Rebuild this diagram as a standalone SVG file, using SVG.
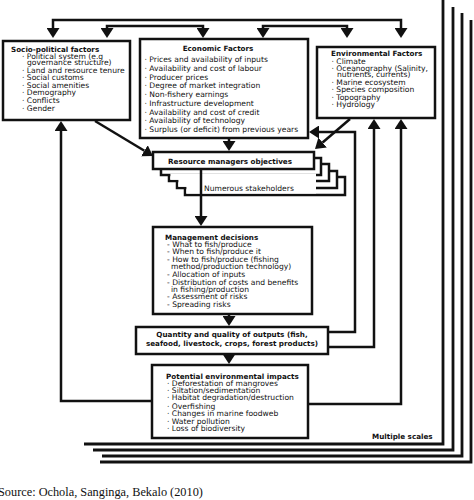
<svg xmlns="http://www.w3.org/2000/svg" width="474" height="500" viewBox="0 0 474 500">
<style>
.box{fill:#fff;stroke:#111;stroke-width:2.5}
.ln{fill:none;stroke:#111;stroke-width:2.5;stroke-linejoin:miter}
.fr{fill:none;stroke:#111;stroke-width:2.8}
text{font-family:"DejaVu Sans","Liberation Sans",sans-serif;font-size:7.6px;fill:#111}
.b{font-weight:bold;font-size:7.2px}
.m{text-anchor:middle}
.src{font-family:"Liberation Serif","Times New Roman",serif;font-size:12.3px}
</style>
<defs>
<marker id="ah" viewBox="0 0 10 13" refX="0" refY="6.5" markerWidth="10" markerHeight="13" markerUnits="userSpaceOnUse" orient="auto-start-reverse">
<path d="M0,0 L10,6.5 L0,13 z" fill="#111"/>
</marker>
</defs>
<rect width="474" height="500" fill="#fff"/>

<g id="scales-frame">
<path class="fr" d="M443,-2 V444 H84"/>
<path class="fr" d="M453,7 V450 H93"/>
<path class="fr" d="M462,13 V456 H102"/>
<path class="fr" d="M471,20 V462 H100"/>
<text class="b" x="372" y="438.5">Multiple scales</text>
</g>

<g id="socio">
<rect class="box" x="3" y="41" width="127" height="79"/>
<text class="b" x="11" y="52">Socio-political factors</text>
<text x="22" y="58.5">· Political system (e.g</text>
<text x="27" y="64.5">governance structure)</text>
<text x="22" y="72.5">· Land and resource tenure</text>
<text x="22" y="79.5">· Social customs</text>
<text x="22" y="87.5">· Social amenities</text>
<text x="22" y="94.5">· Demography</text>
<text x="22" y="102.5">· Conflicts</text>
<text x="22" y="110.5">· Gender</text>
</g>

<g id="economic">
<rect class="box" x="140" y="39" width="168" height="99"/>
<text class="b m" x="218" y="51">Economic Factors</text>
<text x="144.5" y="62">· Prices and availability of inputs</text>
<text x="144.5" y="70.75">· Availability and cost of labour</text>
<text x="144.5" y="79.5">· Producer prices</text>
<text x="144.5" y="88.25">· Degree of market integration</text>
<text x="144.5" y="97">· Non-fishery earnings</text>
<text x="144.5" y="105.75">· Infrastructure development</text>
<text x="144.5" y="114.5">· Availability and cost of credit</text>
<text x="144.5" y="123.25">· Availability of technology</text>
<text x="144.5" y="132">· Surplus (or deficit) from previous years</text>
</g>

<g id="environmental">
<rect class="box" x="317" y="47" width="118" height="71"/>
<text class="b" x="331" y="56">Environmental Factors</text>
<text x="331.5" y="63.5">· Climate</text>
<text x="331.5" y="70.5">· Oceanography (Salinity,</text>
<text x="337" y="76.5">nutrients, currents)</text>
<text x="331.5" y="84.5">· Marine ecosystem</text>
<text x="331.5" y="91.5">· Species composition</text>
<text x="331.5" y="99.5">· Topography</text>
<text x="331.5" y="106.5">· Hydrology</text>
</g>

<g id="resource-managers">
<rect class="box" x="185" y="177" width="160" height="18"/>
<rect class="box" x="177" y="171" width="160" height="17"/>
<rect class="box" x="169" y="164" width="160" height="17"/>
<rect class="box" x="161" y="158" width="160" height="17"/>
<rect class="box" x="153" y="152" width="161" height="17"/>
<polygon fill="#fff" points="170.4,173.4 316,173.4 316,193.6 186.4,193.6 186.4,186.7 178.4,186.7 178.4,179.7 170.4,179.7"/>
<text class="b m" x="230" y="163.5">Resource managers objectives</text>
<text x="204" y="190.5">Numerous stakeholders</text>
</g>

<g id="management">
<rect class="box" x="153" y="227" width="159" height="87"/>
<text class="b" x="165" y="239.5">Management decisions</text>
<text x="167" y="247">- What to fish/produce</text>
<text x="167" y="254">- When to fish/produce it</text>
<text x="167" y="261.5">- How to fish/produce (fishing</text>
<text x="171" y="268.5">method/production technology)</text>
<text x="167" y="277">- Allocation of inputs</text>
<text x="167" y="284.5">- Distribution of costs and benefits</text>
<text x="171" y="291.5">in fishing/production</text>
<text x="167" y="299">- Assessment of risks</text>
<text x="167" y="307">- Spreading risks</text>
</g>

<g id="outputs">
<rect class="box" x="136" y="327" width="192" height="27"/>
<text class="b m" x="232" y="336.5">Quantity and quality of outputs (fish,</text>
<text class="b m" x="232" y="345.5">seafood, livestock, crops, forest products)</text>
</g>

<g id="impacts">
<rect class="box" x="152" y="365" width="156" height="73"/>
<text class="b" x="166" y="378.5">Potential environmental impacts</text>
<text x="167" y="385.5">· Deforestation of mangroves</text>
<text x="167" y="392.5">· Siltation/sedimentation</text>
<text x="167" y="400">· Habitat degradation/destruction</text>
<text x="167" y="408.5">· Overfishing</text>
<text x="167" y="416">· Changes in marine foodweb</text>
<text x="167" y="423.5">· Water pollution</text>
<text x="167" y="431">· Loss of biodiversity</text>
</g>

<g id="connectors">
<path class="ln" d="M53,28 V20 H401 V28" marker-start="url(#ah)" marker-end="url(#ah)"/>
<path class="ln" d="M107,28 V26 H203 V28" marker-start="url(#ah)" marker-end="url(#ah)"/>
<path class="ln" d="M263,28 V26 H347 V28" marker-start="url(#ah)" marker-end="url(#ah)"/>
<path class="ln" d="M95,121 L144.4,150.8" marker-end="url(#ah)"/>
<path class="ln" d="M229,139 V141" marker-end="url(#ah)"/>
<path class="ln" d="M350,119 L322.6,142.5" marker-end="url(#ah)"/>
<path class="ln" d="M201,170 V216" marker-end="url(#ah)"/>
<path class="ln" d="M229,314 V316" marker-end="url(#ah)"/>
<path class="ln" d="M229,353 V354" marker-end="url(#ah)"/>
<path class="ln" d="M328,332 H355 V132 H319" marker-end="url(#ah)"/>
<path class="ln" d="M328,347 H374 V129" marker-end="url(#ah)"/>
<path class="ln" d="M308,404 H401 V129" marker-end="url(#ah)"/>
<path class="ln" d="M152,401 H61 V131" marker-end="url(#ah)"/>
</g>

<text class="src" x="-2" y="495.5">Source: Ochola, Sanginga, Bekalo (2010)</text>
</svg>
